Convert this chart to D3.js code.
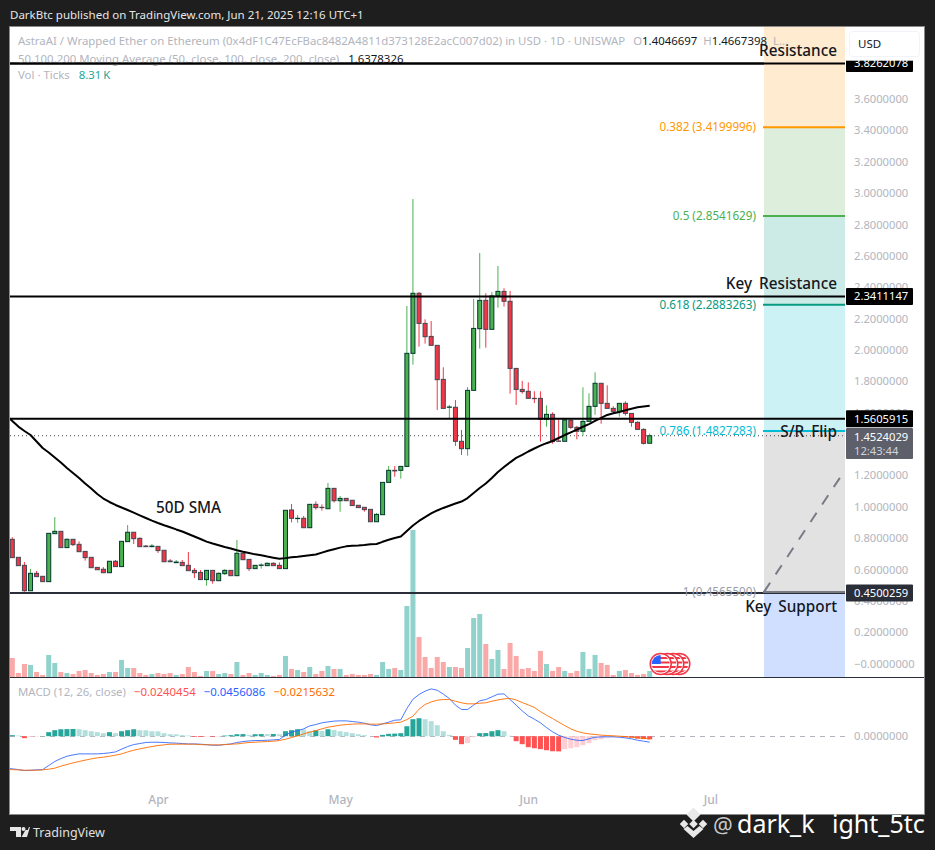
<!DOCTYPE html>
<html>
<head>
<meta charset="utf-8">
<script src="https://cdn.jsdelivr.net/npm/d3@7"></script>
<style>
  html, body { margin: 0; padding: 0; background: #1e1e1e; }
  svg { display: block; }
  text { font-family: "Noto Sans", sans-serif; }
</style>
</head>
<body>
<svg id="chart" width="935" height="850"></svg>
<script>
// daily candles, first one is Mar 8 2025
const firstDay = Date.UTC(2025, 2, 8);

const opens = [
  .792,.677,.626,.464,.575,.556,.522,.828,.843,.739,
  .792,.760,.715,.677,.613,.601,.579,.652,.618,.777,
  .837,.798,.749,.745,.747,.722,.654,.643,.645,.626,
  .594,.581,.535,.594,.528,.573,.594,.560,.703,.664,
  .605,.626,.624,.639,.626,.605,.979,.924,.926,.866,
  1.015,.996,.987,1.117,1.038,1.053,1.041,1.009,.996,.983,
  .904,.949,1.155,1.232,1.232,1.257,1.978,2.361,2.169,2.086,
  2.029,1.812,1.634,1.634,1.417,1.370,1.742,2.135,2.316,2.131,
  2.344,2.373,2.310,1.882,1.748,1.736,1.691,1.691,1.557,1.589,
  1.419,1.417,1.551,1.506,1.481,1.544,1.640,1.787,1.659,1.627,
  1.608,1.659,1.595,1.538,1.493,1.4046697
];
const closes = [
  .675,.624,.464,.575,.554,.522,.830,.843,.739,.792,
  .758,.713,.675,.611,.598,.579,.652,.618,.779,.837,
  .796,.745,.745,.749,.720,.649,.649,.647,.624,.592,
  .579,.535,.594,.528,.575,.594,.560,.703,.662,.605,
  .626,.628,.639,.624,.605,.977,.926,.926,.866,1.015,
  .994,.994,1.117,1.038,1.053,1.038,1.007,.994,.981,.904,
  .951,1.155,1.232,1.228,1.257,1.978,2.361,2.169,2.084,2.029,
  1.810,1.627,1.636,1.417,1.370,1.742,2.137,2.316,2.131,2.344,
  2.373,2.310,1.882,1.748,1.734,1.691,1.689,1.557,1.589,1.415,
  1.417,1.553,1.506,1.481,1.544,1.640,1.787,1.659,1.627,1.608,
  1.659,1.595,1.538,1.493,1.404,1.4524029
];
const highs = [
  .805,.677,.647,.603,.590,.556,.830,.934,.843,.798,
  .792,.779,.715,.677,.613,.615,.652,.660,.779,.883,
  .837,.805,.756,.762,.747,.722,.666,.660,.660,.711,
  .609,.596,.594,.594,.581,.601,.594,.788,.703,.664,
  .626,.639,.645,.645,.645,.977,1.017,.947,.941,1.015,
  1.034,1.015,1.151,1.117,1.068,1.053,1.041,1.009,.996,.983,
  .960,1.155,1.260,1.259,1.257,2.280,2.962,2.369,2.195,2.184,
  2.029,1.889,1.649,1.680,1.489,1.763,2.325,2.618,2.361,2.369,
  2.535,2.393,2.376,1.882,1.802,1.793,1.736,1.736,1.646,1.602,
  1.557,1.553,1.557,1.515,1.761,1.723,1.857,1.787,1.774,1.640,
  1.659,1.672,1.595,1.544,1.500,1.4667398
];
const lows = [
  .675,.624,.458,.464,.554,.522,.522,.828,.739,.739,
  .749,.713,.656,.611,.598,.579,.579,.618,.618,.777,
  .762,.745,.745,.745,.705,.649,.649,.643,.624,.592,
  .545,.535,.496,.509,.528,.564,.560,.560,.662,.590,
  .605,.605,.624,.624,.605,.605,.900,.898,.866,.866,
  .981,.975,.987,1.026,.968,1.038,1.007,.994,.968,.904,
  .904,.949,1.155,1.191,1.179,1.257,1.906,2.021,2.040,2.029,
  1.617,1.627,1.561,1.387,1.330,1.325,1.742,2.008,2.014,2.131,
  2.269,2.276,1.721,1.649,1.721,1.691,1.661,1.415,1.510,1.402,
  1.417,1.417,1.495,1.430,1.453,1.544,1.587,1.529,1.627,1.591,
  1.574,1.581,1.510,1.493,1.396,1.404
];
// the three line series hold one extra leading value, the day before the first
// candle, because the lines already run in from the left edge of the chart
const sma50 = [
  1.578,
  1.547,1.511,1.483,1.457,1.416,1.374,1.346,1.314,1.282,1.247,
  1.215,1.183,1.148,1.116,1.081,1.052,1.030,1.011,.995,.979,
  .962,.945,.928,.911,.896,.882,.869,.855,.842,.826,
  .810,.794,.777,.765,.754,.743,.733,.722,.713,.705,
  .696,.690,.682,.675,.668,.672,.677,.681,.686,.691,
  .695,.707,.719,.729,.739,.747,.751,.753,.756,.760,
  .762,.776,.789,.800,.810,.845,.880,.909,.934,.957,
  .976,.992,1.006,1.020,1.033,1.055,1.087,1.119,1.148,1.183,
  1.221,1.253,1.283,1.311,1.330,1.352,1.371,1.389,1.405,1.419,
  1.438,1.457,1.474,1.492,1.510,1.527,1.547,1.566,1.585,1.596,
  1.604,1.615,1.625,1.634,1.639,1.644
];
// tick counts in thousands
const volumes = [
  25.5,5.7,17.6,16.3,7.0,3.1,29.5,18.9,7.0,5.7,
  4.4,8.4,9.7,5.7,3.1,4.4,7.0,7.0,22.9,12.3,
  12.3,5.7,3.1,4.4,5.7,4.4,5.7,3.1,4.4,13.6,
  7.0,1.8,8.4,8.4,4.4,5.7,4.4,20.2,3.1,5.7,
  3.1,5.7,3.1,1.8,3.1,28.2,11,9.7,7,13.6,
  4.4,8.4,15,11,11,3.1,4.4,3.1,3.1,4.4,
  3.1,20.2,11,12.3,9.7,94.2,194.5,53.2,26.8,12.3,
  26.8,20.2,13.6,13.6,12.3,38.7,78.3,83.6,44,24.2,
  36.1,11,45.3,28.2,11,12.3,8.4,34.8,17.6,8.4,
  13.6,8.4,5.7,8.4,33.4,11,29.5,18.9,16.3,3.1,
  8.4,9.7,5.7,3.1,4.4,8.31
];
const macdLine = [
  -.246,
  -.249,-.255,-.262,-.260,-.257,-.255,-.224,-.193,-.171,-.153,
  -.143,-.135,-.135,-.135,-.135,-.132,-.127,-.120,-.099,-.079,
  -.064,-.056,-.048,-.046,-.046,-.048,-.051,-.053,-.056,-.059,
  -.059,-.061,-.064,-.069,-.069,-.064,-.059,-.048,-.041,-.036,
  -.033,-.033,-.031,-.028,-.025,.008,.031,.043,.056,.079,
  .089,.102,.109,.115,.117,.117,.112,.107,.099,.087,
  .081,.094,.107,.122,.125,.211,.282,.318,.344,.361,
  .351,.321,.288,.237,.204,.204,.237,.270,.280,.300,
  .321,.323,.280,.237,.193,.155,.130,.102,.066,.033,
  .008,-.010,-.023,-.031,-.033,-.020,-.008,-.005,-.005,-.005,
  -.008,-.013,-.020,-.031,-.038,-.0456086
];
const signalLine = [
  -.254,
  -.255,-.257,-.260,-.260,-.260,-.257,-.252,-.244,-.229,-.216,
  -.204,-.193,-.183,-.173,-.165,-.160,-.153,-.145,-.135,-.120,
  -.107,-.097,-.087,-.079,-.071,-.066,-.061,-.061,-.061,-.061,
  -.061,-.064,-.066,-.066,-.066,-.064,-.061,-.059,-.053,-.048,
  -.046,-.043,-.041,-.038,-.033,-.023,-.010,.003,.018,.031,
  .043,.056,.069,.076,.084,.089,.092,.094,.094,.092,
  .092,.094,.097,.102,.107,.127,.153,.206,.242,.262,
  .275,.280,.280,.267,.255,.247,.247,.252,.255,.267,
  .277,.285,.288,.277,.257,.239,.219,.188,.160,.135,
  .107,.081,.056,.038,.025,.018,.013,.008,.005,.003,
  0,-.003,-.008,-.013,-.015,-.0215632
];
const macdHist = [
  .008,.005,-.015,-.005,-.003,.001,.031,.046,.053,.054,
  .055,.053,.046,.038,.031,.023,.031,.023,.038,.046,
  .053,.046,.045,.038,.037,.023,.015,.014,.008,.005,
  -.005,-.006,-.003,-.005,-.003,.005,.008,.015,.016,.010,
  .015,.016,.016,.017,.015,.038,.046,.053,.051,.038,
  .045,.040,.053,.047,.038,.031,.023,.015,.008,.000,
  -.010,.010,.018,.020,.023,.076,.130,.137,.130,.115,
  .084,.038,.010,-.028,-.061,-.053,-.008,.023,.024,.038,
  .046,.038,.003,-.038,-.061,-.084,-.092,-.099,-.107,-.115,
  -.116,-.099,-.092,-.084,-.069,-.053,-.031,-.023,-.010,-.005,
  -.005,-.008,-.010,-.018,-.022,-.0240454
];

const priceTicks = [3.6, 3.4, 3.2, 3.0, 2.8, 2.6, 2.4, 2.2, 2.0, 1.8, 1.6, 1.2, 1.0, 0.8, 0.6, 0.4, 0.2, 0];
const monthLabels = ['Apr', 'May', 'Jun', 'Jul'];
const monthDates = [Date.UTC(2025, 3, 1), Date.UTC(2025, 4, 1), Date.UTC(2025, 5, 1), Date.UTC(2025, 6, 1)];

const fibRatios = ['0.382', '0.5', '0.618', '0.786', '1'];
const fibPrices = [3.4199996, 2.8541629, 2.2883263, 1.4827283, 0.45655];
const fibLabels = ['0.382 (3.4199996)', '0.5 (2.8541629)', '0.618 (2.2883263)', '0.786 (1.4827283)', '1 (0.4565500)'];
const fibLineColors = ['#ff9800', '#4caf50', '#089981', '#00bcd4', '#787b86'];
const fibTextColors = ['#ff9800', '#4caf50', '#089981', '#00bcd4', '#9a9ca6'];
const fibBandColors = ['#feebd0', '#deeedd', '#cdebe6', '#ccf2f6', '#e2e2e3', '#d0dfff'];

const levelPrices = [3.8262078, 2.3411147, 1.5605915, 0.4500259];
const levelColors = ['#000', '#000', '#000', '#2a2e39'];
const lastClose = 1.4524029;

const W = 935, H = 850;
const frame = { left: 10, right: 924, top: 27, bottom: 814 };
const plotRight = 845, paneBottom = 677;
const bandLeft = 764;

const days = d3.range(opens.length).map(i => new Date(firstDay + i * 864e5));
const x = d3.scaleUtc().domain([days[0], days[days.length - 1]]).range([12.3, 649.7]);
const y = d3.scaleLinear().domain([0, 3.6]).range([663.5, 99]);
const yVol = d3.scaleLinear().domain([0, 194.5]).range([677.3, 530]);
const yMacd = d3.scaleLinear().domain([0, 1]).range([736.2, 605.2]);

const candles = days.map((d, i) => ({
  d, i, o: opens[i], h: highs[i], l: lows[i], c: closes[i], v: volumes[i], up: closes[i] >= opens[i]
}));

const svg = d3.select('#chart');
svg.append('rect').attr('width', W).attr('height', H).attr('fill', '#1e1e1e');
svg.append('rect')
  .attr('x', frame.left - 0.5).attr('y', frame.top - 0.5)
  .attr('width', frame.right - frame.left + 1).attr('height', frame.bottom - frame.top + 1)
  .attr('fill', '#fff').attr('stroke', '#8a8a8a');

const defs = svg.append('defs');
defs.append('clipPath').attr('id', 'plotClip').append('rect')
  .attr('x', frame.left).attr('y', frame.top)
  .attr('width', plotRight - frame.left).attr('height', frame.bottom - frame.top);

svg.append('text').attr('x', 10).attr('y', 19).attr('fill', '#e6e6e6').attr('font-size', 11.5)
  .text('DarkBtc published on TradingView.com, Jun 21, 2025 12:16 UTC+1');

const plot = svg.append('g').attr('clip-path', 'url(#plotClip)');

// fib bands, each one runs between two neighbouring levels
const bandEdges = [frame.top, ...fibPrices.map(p => y(p)), paneBottom];
plot.append('g').selectAll('rect')
  .data(fibBandColors)
  .join('rect')
  .attr('x', bandLeft)
  .attr('y', (d, i) => bandEdges[i])
  .attr('width', plotRight - bandLeft)
  .attr('height', (d, i) => bandEdges[i + 1] - bandEdges[i])
  .attr('fill', d => d);

// volume
plot.append('g').selectAll('rect')
  .data(candles)
  .join('rect')
  .attr('x', d => x(d.d) - 2.5)
  .attr('width', 5)
  .attr('y', d => yVol(d.v))
  .attr('height', d => yVol(0) - yVol(d.v))
  .attr('fill', d => d.up ? '#92d2cc' : '#f9a9a7');

// macd zero line
plot.append('line')
  .attr('x1', frame.left).attr('x2', plotRight)
  .attr('y1', yMacd(0) + 0.3).attr('y2', yMacd(0) + 0.3)
  .attr('stroke', '#b2b5be').attr('stroke-dasharray', '5,5');

// hist colour follows direction against the previous bar
function histColor(v, i) {
  const prev = i > 0 ? macdHist[i - 1] : 0;
  if (v >= 0) return v > prev ? '#26a69a' : '#b2dfdb';
  return v < prev ? '#ff5252' : '#ffcdd2';
}
plot.append('g').selectAll('rect')
  .data(macdHist)
  .join('rect')
  .attr('x', (v, i) => x(days[i]) - 2.5)
  .attr('width', 5)
  .attr('y', v => Math.min(yMacd(v), yMacd(0)))
  .attr('height', v => Math.abs(yMacd(v) - yMacd(0)))
  .attr('fill', histColor);

// index 0 of the line series is the day before the first candle
const lineX = (v, i) => x(new Date(firstDay + (i - 1) * 864e5));
plot.append('path').datum(macdLine)
  .attr('fill', 'none').attr('stroke', '#2962ff').attr('stroke-width', 1).attr('opacity', 0.85)
  .attr('d', d3.line().x(lineX).y(v => yMacd(v)));
plot.append('path').datum(signalLine)
  .attr('fill', 'none').attr('stroke', '#ff6d00').attr('stroke-width', 1).attr('opacity', 0.9)
  .attr('d', d3.line().x(lineX).y(v => yMacd(v)));

// last price dotted line
plot.append('line')
  .attr('x1', frame.left).attr('x2', plotRight)
  .attr('y1', y(lastClose)).attr('y2', y(lastClose))
  .attr('stroke', '#434651').attr('stroke-dasharray', '1,3');

// candles
const candle = plot.append('g').selectAll('g')
  .data(candles)
  .join('g');
candle.append('line')
  .attr('x1', d => x(d.d)).attr('x2', d => x(d.d))
  .attr('y1', d => y(d.h)).attr('y2', d => y(d.l))
  .attr('stroke', d => d.up ? '#4caf50' : '#f23645');
candle.append('rect')
  .attr('x', d => x(d.d) - 2)
  .attr('width', 4)
  .attr('y', d => y(Math.max(d.o, d.c)))
  .attr('height', d => Math.abs(y(d.o) - y(d.c)))
  .attr('fill', d => d.up ? '#4caf50' : '#f23645')
  .attr('stroke', d => d.up ? '#00382c' : '#434651');

// horizontal levels, under the fib lines
plot.append('g').selectAll('line')
  .data(levelPrices)
  .join('line')
  .attr('x1', frame.left).attr('x2', plotRight)
  .attr('y1', d => y(d)).attr('y2', d => y(d))
  .attr('stroke', (d, i) => levelColors[i]).attr('stroke-width', 2);

plot.append('g').selectAll('line')
  .data(fibPrices)
  .join('line')
  .attr('x1', bandLeft - 1).attr('x2', plotRight)
  .attr('y1', d => y(d)).attr('y2', d => y(d))
  .attr('stroke', (d, i) => fibLineColors[i]).attr('stroke-width', 2);

plot.append('g').selectAll('text')
  .data(fibPrices)
  .join('text')
  .attr('x', 756).attr('y', d => y(d)).attr('dy', '0.35em')
  .attr('text-anchor', 'end').attr('font-size', 11.7)
  .attr('fill', (d, i) => fibTextColors[i])
  .text((d, i) => fibLabels[i]);

// trend line of the fib tool
plot.append('line')
  .attr('x1', bandLeft).attr('x2', plotRight)
  .attr('y1', y(0.45655)).attr('y2', y(1.2333))
  .attr('stroke', '#787b86').attr('stroke-width', 2).attr('stroke-dasharray', '11,10');

// sma
plot.append('path').datum(sma50)
  .attr('fill', 'none').attr('stroke', '#000').attr('stroke-width', 2)
  .attr('stroke-linejoin', 'round')
  .attr('d', d3.line().x(lineX).y(v => y(v)));

// drawn notes
const notes = [
  ['Resistance', 837, 51, 'end', 0],
  ['Key Resistance', 837, 284, 'end', 3],
  ['S/R Flip', 837, 432, 'end', 3],
  ['Key Support', 837, 607, 'end', 3],
  ['50D SMA', 156, 508, 'start', 0]
];
plot.append('g').selectAll('text')
  .data(notes)
  .join('text')
  .attr('x', d => d[1]).attr('y', d => d[2]).attr('dy', '0.35em')
  .attr('text-anchor', d => d[3])
  .attr('word-spacing', d => d[4])
  .attr('font-size', 15.3).attr('font-weight', 500).attr('fill', '#131722')
  .text(d => d[0]);

// pane separator
svg.append('line')
  .attr('x1', frame.left).attr('x2', frame.right)
  .attr('y1', paneBottom + 0.5).attr('y2', paneBottom + 0.5)
  .attr('stroke', '#2a2e39');

// price axis
const fmt = d3.format('.7f');
const axis = svg.append('g').attr('transform', `translate(${plotRight + 1},0)`)
  .call(d3.axisRight(y).tickValues(priceTicks).tickSize(0).tickPadding(8)
    .tickFormat(d => d === 0 ? '\u22120.0000000' : fmt(d)));
axis.select('.domain').remove();
axis.selectAll('text').attr('fill', '#b2b5be').attr('font-size', 11.2)
  .attr('font-family', '"Noto Sans", sans-serif');

const macdAxis = svg.append('g').attr('transform', `translate(${plotRight + 1},0)`)
  .call(d3.axisRight(yMacd).tickValues([0]).tickSize(0).tickPadding(8).tickFormat(fmt));
macdAxis.select('.domain').remove();
macdAxis.selectAll('text').attr('fill', '#b2b5be').attr('font-size', 11.2)
  .attr('font-family', '"Noto Sans", sans-serif');

// time axis
const timeAxis = svg.append('g').attr('transform', 'translate(0,787)')
  .call(d3.axisBottom(x).tickValues(monthDates).tickSize(0).tickPadding(8)
    .tickFormat((d, i) => monthLabels[i]));
timeAxis.select('.domain').remove();
timeAxis.selectAll('text').attr('fill', '#b2b5be').attr('font-size', 12).attr('font-weight', 500)
  .attr('font-family', '"Noto Sans", sans-serif');

// price tags
const tag = svg.append('g').selectAll('g')
  .data(levelPrices)
  .join('g');
tag.append('rect')
  .attr('x', plotRight + 1).attr('width', 67).attr('rx', 1)
  .attr('y', d => y(d) - 8.5).attr('height', 17)
  .attr('fill', (d, i) => levelColors[i]);
tag.append('text')
  .attr('x', plotRight + 9).attr('y', d => y(d)).attr('dy', '0.35em')
  .attr('fill', '#fff').attr('font-size', 11.2)
  .text(d => fmt(d));

svg.append('rect').attr('x', plotRight + 1).attr('y', 428).attr('width', 67).attr('height', 31)
  .attr('rx', 1).attr('fill', '#5d606b');
svg.append('text').attr('x', plotRight + 9).attr('y', 441).attr('fill', '#fff').attr('font-size', 11.2)
  .text(fmt(lastClose));
svg.append('text').attr('x', plotRight + 9).attr('y', 455).attr('fill', '#d1d4dc').attr('font-size', 11.2)
  .text('12:43:44');

// currency button sits above the top tag
svg.append('rect').attr('x', plotRight + 1).attr('y', frame.top)
  .attr('width', frame.right - plotRight - 1).attr('height', 33.7).attr('fill', '#fff');
svg.append('rect').attr('x', 849.5).attr('y', 31.5).attr('width', 70).attr('height', 25).attr('rx', 3)
  .attr('fill', '#fff').attr('stroke', '#f0f3fa');
svg.append('text').attr('x', 858).attr('y', 48).attr('fill', '#131722').attr('font-size', 11.5).text('USD');

// legends
function legendLine(yPos, parts) {
  const t = svg.append('text').attr('x', 18).attr('y', yPos).attr('font-size', 11.4);
  parts.forEach(p => t.append('tspan').attr('fill', p[1]).attr('dx', p[2] || 0).text(p[0]));
}
const grey = '#b2b5be';
legendLine(45, [
  ['AstraAI / Wrapped Ether on Ethereum (0x4dF1C47EcFBac8482A4811d373128E2acC007d02) in USD \u00b7 1D \u00b7 UNISWAP', grey],
  ['O', grey, 8], ['1.4046697', '#131722'],
  ['H', grey, 6], ['1.4667398', '#131722'],
  ['L\u2026', grey, 6]
]);
legendLine(63, [['50,100,200 Moving Average (50, close, 100, close, 200, close)', grey], ['1.6378326', '#131722', 9]]);
legendLine(79, [['Vol \u00b7 Ticks', grey], ['8.31\u2009K', '#26a69a', 9]]);
legendLine(696, [
  ['MACD (12, 26, close)', grey],
  ['\u22120.0240454', '#ff5252', 8],
  ['\u22120.0456086', '#2962ff', 8],
  ['\u22120.0215632', '#ff6d00', 8]
]);

// redraw the top level over the second legend row, it cuts through the text there
svg.append('line').attr('x1', frame.left).attr('x2', bandLeft)
  .attr('y1', y(levelPrices[0])).attr('y2', y(levelPrices[0]))
  .attr('stroke', '#000').attr('stroke-width', 2);

// US flag event marks
const flagCx = [679.3, 673.3, 667.3, 660.7];
const flagCy = 664, flagR = 10.5;
defs.append('clipPath').attr('id', 'flagClip').append('circle').attr('r', flagR - 1.5);
const flag = svg.append('g').selectAll('g')
  .data(flagCx)
  .join('g')
  .attr('transform', d => `translate(${d},${flagCy})`);
flag.append('circle').attr('r', flagR).attr('fill', '#fff').attr('stroke', '#f23645').attr('stroke-width', 1.5);
const flagInner = flag.append('g').attr('clip-path', 'url(#flagClip)');
[-7, -2.5, 2, 6.5].forEach(sy => {
  flagInner.append('rect').attr('x', -10).attr('y', sy).attr('width', 20).attr('height', 2).attr('fill', '#f23645');
});
flagInner.append('rect').attr('x', -10).attr('y', -10).attr('width', 10).attr('height', 10).attr('fill', '#2962ff');

// footer
const logo = svg.append('g').attr('fill', '#e6e6e6');
logo.append('path').attr('d', 'M10 827h11v10h-5v-6h-6z');
logo.append('circle').attr('cx', 23.5).attr('cy', 829).attr('r', 2);
logo.append('path').attr('d', 'M25 837l4-10h1l-3 10z M21.5 837l4-7h3l-3 7z');
svg.append('text').attr('x', 33).attr('y', 837).attr('fill', '#e0e0e0').attr('font-size', 12.5).text('TradingView');

const mark = svg.append('g').attr('fill', '#e8e8e8');
const markCx = 693.5, markCy = 824;
[[0, -9.5, 5], [-9.5, 0, 3], [9.5, 0, 3], [0, 0, 3]].forEach(p => {
  mark.append('rect').attr('x', -p[2]).attr('y', -p[2]).attr('width', p[2] * 2).attr('height', p[2] * 2)
    .attr('transform', `translate(${markCx + p[0]},${markCy + p[1]}) rotate(45)`);
});
mark.append('path').attr('d', `M${markCx - 10} ${markCy + 5}l4-3 6 5 6-5 4 3-10 9z`);

svg.append('text').attr('x', 713).attr('y', 833).attr('fill', '#c8c8c8').attr('font-size', 22).text('@');
svg.append('text').attr('x', 737).attr('y', 833).attr('fill', '#fff').attr('font-size', 25).text('dark_k');
svg.append('text').attr('x', 832).attr('y', 833).attr('fill', '#fff').attr('font-size', 25).text('ight_5tc');
</script>
</body>
</html>
